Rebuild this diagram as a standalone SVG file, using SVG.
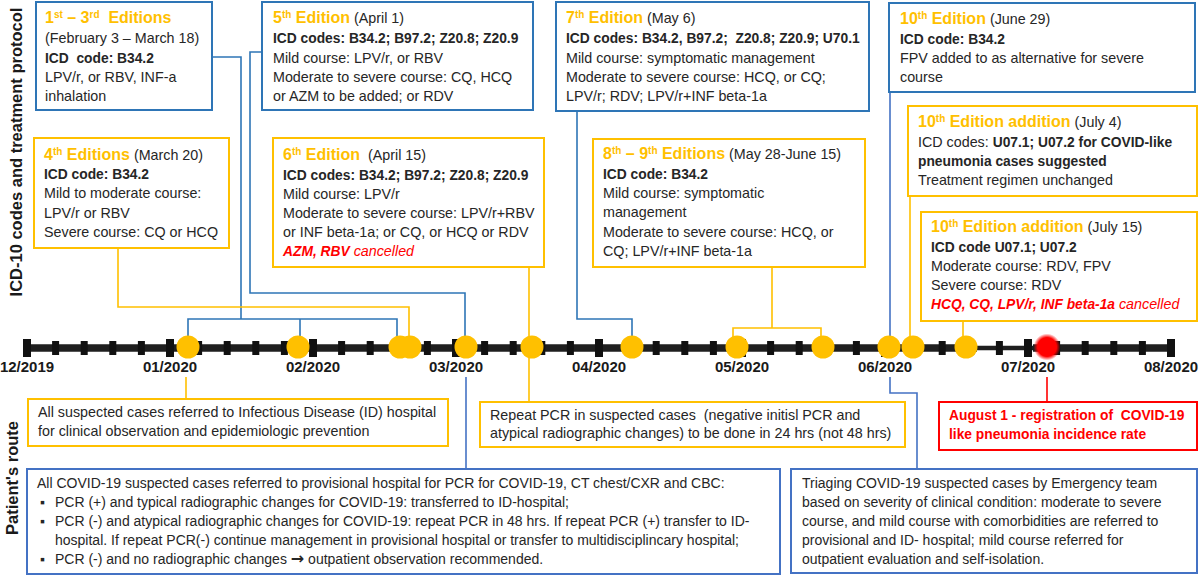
<svg xmlns="http://www.w3.org/2000/svg" width="1200" height="577" viewBox="0 0 1200 577" xml:space="preserve">
<defs>
<style>
text{font-family:"Liberation Sans",Arial,sans-serif;fill:#262626;font-size:14.3px;white-space:pre}
.bx{fill:#fff;stroke-width:2}
.bb{stroke:#2E75B6}
.bp{stroke:#4472C4}
.bo{stroke:#FFC000}
.br{stroke:#FF0000}
.t{fill:#FFC000;font-weight:bold;font-size:16px}
.b{font-weight:bold;font-size:13.8px}
.rb{fill:#FF0000;font-weight:bold;font-style:italic;font-size:13.8px}
.ri{fill:#FF0000;font-style:italic}
.rr{fill:#FF0000;font-weight:bold;font-size:13.8px}
.sup{font-size:10px}
.lbl{font-weight:bold;font-size:15px;text-anchor:middle;fill:#1a1a1a}
.side{font-weight:bold;font-size:16.5px;text-anchor:middle;fill:#1a1a1a}
.sm{font-size:14px}
.arr{font-weight:bold;font-size:16px;font-family:"DejaVu Sans",sans-serif}
.cb{fill:none;stroke:#2E75B6;stroke-width:1.6}
.cp{fill:none;stroke:#4472C4;stroke-width:1.6}
.co{fill:none;stroke:#FFC000;stroke-width:1.6}
.cr{fill:none;stroke:#FF0000;stroke-width:1.6}
.dot{fill:#FFC000}
.tk{fill:#111}
</style>
<rect id="ts" class="tk" x="-3.5" y="341" width="7" height="14"/>
<rect id="tl" class="tk" x="-4" y="339" width="8" height="18"/>
<radialGradient id="rg">
<stop offset="0.7" stop-color="#FF0000"/>
<stop offset="1" stop-color="#FF0000" stop-opacity="0"/>
</radialGradient>
</defs>
<rect width="1200" height="577" fill="#fff"/>
<g id="connectors">
<path class="cb" d="M212,57 H241 V319 M188,337 V319 H397 V337 M300,319 V337"/>
<path class="cb" d="M262,52 H250 V293 H465 V337"/>
<path class="cb" d="M577,111 V319 H632 V337"/>
<path class="cp" d="M890,92 V337 M890,377 V393 H917 V469"/>
<path class="cp" d="M466,377 V469"/>
<path class="co" d="M118,248 V307 H409 V337"/>
<path class="co" d="M529,267 V402"/>
<path class="co" d="M772,267 V328 M733,337 V328 H821 V337"/>
<path class="co" d="M910,196 V337"/>
<path class="co" d="M963,321 V337"/>
<path class="co" d="M186,377 V399"/>
<path class="cr" d="M1047,377 V402"/>
</g>
<g id="timeline">
<path d="M27,348 H977 M1033,348 H1171" stroke="#1f1f1f" stroke-width="7.5" fill="none"/>
<path d="M977,348 H1033" stroke="#1f1f1f" stroke-width="4.5" fill="none"/>
<use href="#tl" x="27"/><use href="#ts" x="55.6"/><use href="#ts" x="84.2"/><use href="#ts" x="112.8"/><use href="#ts" x="141.4"/>
<use href="#tl" x="170"/><use href="#ts" x="198.6"/><use href="#ts" x="227.2"/><use href="#ts" x="255.8"/><use href="#ts" x="284.4"/>
<use href="#tl" x="313"/><use href="#ts" x="341.6"/><use href="#ts" x="370.2"/><use href="#ts" x="398.8"/><use href="#ts" x="427.4"/>
<use href="#tl" x="456"/><use href="#ts" x="484.6"/><use href="#ts" x="513.2"/><use href="#ts" x="541.8"/><use href="#ts" x="570.4"/>
<use href="#tl" x="599"/><use href="#ts" x="627.6"/><use href="#ts" x="656.2"/><use href="#ts" x="684.8"/><use href="#ts" x="713.4"/>
<use href="#tl" x="742"/><use href="#ts" x="770.6"/><use href="#ts" x="799.2"/><use href="#ts" x="827.8"/><use href="#ts" x="856.4"/>
<use href="#tl" x="885"/><use href="#ts" x="913.6"/><use href="#ts" x="942.2"/><use href="#ts" x="970.8"/><use href="#ts" x="999.4"/>
<use href="#tl" x="1028"/><use href="#ts" x="1056.6"/><use href="#ts" x="1085.2"/><use href="#ts" x="1113.8"/><use href="#ts" x="1142.4"/>
<use href="#tl" x="1171"/>
<text class="lbl" x="27" y="372">12/2019</text>
<text class="lbl" x="170" y="372">01/2020</text>
<text class="lbl" x="313" y="372">02/2020</text>
<text class="lbl" x="456" y="372">03/2020</text>
<text class="lbl" x="599" y="372">04/2020</text>
<text class="lbl" x="742" y="372">05/2020</text>
<text class="lbl" x="885" y="372">06/2020</text>
<text class="lbl" x="1028" y="372">07/2020</text>
<text class="lbl" x="1171" y="372">08/2020</text>
</g>
<g id="events">
<circle class="dot" cx="188" cy="347" r="11.5"/>
<circle class="dot" cx="298" cy="347" r="11.5"/>
<circle class="dot" cx="400" cy="347" r="11.5"/>
<circle class="dot" cx="410" cy="347" r="11.5"/>
<circle class="dot" cx="466" cy="347" r="11.5"/>
<circle class="dot" cx="532" cy="347" r="11.5"/>
<circle class="dot" cx="632" cy="347" r="11.5"/>
<circle class="dot" cx="737" cy="347" r="11.5"/>
<circle class="dot" cx="823" cy="347" r="11.5"/>
<circle class="dot" cx="889" cy="347" r="11.5"/>
<circle class="dot" cx="913" cy="347" r="11.5"/>
<circle class="dot" cx="966" cy="347" r="11.5"/>
<circle cx="1047" cy="347" r="13.5" fill="url(#rg)"/>
</g>
<g id="side-labels">
<text class="side" transform="translate(22,152) rotate(-90)">ICD-10 codes and treatment protocol</text>
<text class="side" transform="translate(18,478) rotate(-90)">Patient's route</text>
</g>
<g id="ed1-3">
<rect class="bx bb" x="36" y="2" width="176" height="108"/>
<text x="45" y="23" class="t">1<tspan class="sup" baseline-shift="super">st</tspan> – 3<tspan class="sup" baseline-shift="super">rd</tspan>  Editions</text>
<text x="45" y="43">(February 3 – March 18)</text>
<text x="45" y="63" class="b">ICD  code: B34.2</text>
<text x="45" y="82">LPV/r, or RBV, INF-a</text>
<text x="45" y="101">inhalation</text>
</g>
<g id="ed5">
<rect class="bx bb" x="262" y="2" width="271" height="108"/>
<text x="273" y="23"><tspan class="t">5<tspan class="sup" baseline-shift="super">th</tspan> Edition</tspan> (April 1)</text>
<text x="273" y="43" class="b">ICD codes: B34.2; B97.2; Z20.8; Z20.9</text>
<text x="273" y="63">Mild course: LPV/r, or RBV</text>
<text x="273" y="82">Moderate to severe course: CQ, HCQ</text>
<text x="273" y="101">or AZM to be added; or RDV</text>
</g>
<g id="ed7">
<rect class="bx bb" x="556" y="2" width="313" height="109"/>
<text x="566" y="23"><tspan class="t">7<tspan class="sup" baseline-shift="super">th</tspan> Edition</tspan> (May 6)</text>
<text x="566" y="43" class="b">ICD codes: B34.2, B97.2;  Z20.8; Z20.9; U70.1</text>
<text x="566" y="63">Mild course: symptomatic management</text>
<text x="566" y="82">Moderate to severe course: HCQ, or CQ;</text>
<text x="566" y="101">LPV/r; RDV; LPV/r+INF beta-1a</text>
</g>
<g id="ed10">
<rect class="bx bb" x="889" y="3" width="306" height="89"/>
<text x="900" y="24"><tspan class="t">10<tspan class="sup" baseline-shift="super">th</tspan> Edition</tspan> (June 29)</text>
<text x="900" y="44" class="b">ICD code: B34.2</text>
<text x="900" y="63">FPV added to as alternative for severe</text>
<text x="900" y="82">course</text>
</g>
<g id="ed10-add-jul4">
<rect class="bx bo" x="908" y="106" width="289" height="90"/>
<text x="918" y="127"><tspan class="t">10<tspan class="sup" baseline-shift="super">th</tspan> Edition addition</tspan> (July 4)</text>
<text x="918" y="147">ICD codes: <tspan class="b">U07.1; U07.2 for COVID-like</tspan></text>
<text x="918" y="166" class="b">pneumonia cases suggested</text>
<text x="918" y="185">Treatment regimen unchanged</text>
</g>
<g id="ed10-add-jul15">
<rect class="bx bo" x="921" y="212" width="276" height="109"/>
<text x="931" y="232"><tspan class="t">10<tspan class="sup" baseline-shift="super">th</tspan> Edition addition</tspan> (July 15)</text>
<text x="931" y="252" class="b">ICD code U07.1; U07.2</text>
<text x="931" y="271">Moderate course: RDV, FPV</text>
<text x="931" y="290">Severe course: RDV</text>
<text x="931" y="309"><tspan class="rb">HCQ, CQ, LPV/r, INF beta-1a</tspan><tspan class="ri"> cancelled</tspan></text>
</g>
<g id="ed4">
<rect class="bx bo" x="34" y="138" width="195" height="110"/>
<text x="44" y="160"><tspan class="t">4<tspan class="sup" baseline-shift="super">th</tspan> Editions</tspan> (March 20)</text>
<text x="44" y="179" class="b">ICD code: B34.2</text>
<text x="44" y="198">Mild to moderate course:</text>
<text x="44" y="218">LPV/r or RBV</text>
<text x="44" y="237">Severe course: CQ or HCQ</text>
</g>
<g id="ed6">
<rect class="bx bo" x="273" y="138" width="271" height="129"/>
<text x="283" y="160"><tspan class="t">6<tspan class="sup" baseline-shift="super">th</tspan> Edition</tspan>  (April 15)</text>
<text x="283" y="180" class="b">ICD codes: B34.2; B97.2; Z20.8; Z20.9</text>
<text x="283" y="199">Mild course: LPV/r</text>
<text x="283" y="218">Moderate to severe course: LPV/r+RBV</text>
<text x="283" y="237">or INF beta-1a; or CQ, or HCQ or RDV</text>
<text x="283" y="256"><tspan class="rb">AZM, RBV</tspan><tspan class="ri"> cancelled</tspan></text>
</g>
<g id="ed8-9">
<rect class="bx bo" x="593" y="139" width="272" height="128"/>
<text x="603" y="159"><tspan class="t">8<tspan class="sup" baseline-shift="super">th</tspan> – 9<tspan class="sup" baseline-shift="super">th</tspan> Editions</tspan> (May 28-June 15)</text>
<text x="603" y="179" class="b">ICD code: B34.2</text>
<text x="603" y="198">Mild course: symptomatic</text>
<text x="603" y="217">management</text>
<text x="603" y="237">Moderate to severe course: HCQ, or</text>
<text x="603" y="256">CQ; LPV/r+INF beta-1a</text>
</g>
<g id="route-id-hospital">
<rect class="bx bo" x="28" y="399" width="420" height="47"/>
<text x="38" y="417">All suspected cases referred to Infectious Disease (ID) hospital</text>
<text x="38" y="436">for clinical observation and epidemiologic prevention</text>
</g>
<g id="route-repeat-pcr">
<rect class="bx bo" x="480" y="402" width="425" height="45"/>
<text x="490" y="420">Repeat PCR in suspected cases  (negative initisl PCR and</text>
<text x="490" y="438">atypical radiographic changes) to be done in 24 hrs (not 48 hrs)</text>
</g>
<g id="route-august">
<rect class="bx br" x="939" y="402" width="258" height="48"/>
<text x="949" y="420" class="rr">August 1 - registration of  COVID-19</text>
<text x="949" y="439" class="rr">like pneumonia incidence rate</text>
</g>
<g id="route-provisional">
<rect class="bx bp" x="27" y="469" width="753" height="105"/>
<text x="37" y="488" class="sm">All COVID-19 suspected cases referred to provisional hospital for PCR for COVID-19, CT chest/CXR and CBC:</text>
<text x="40" y="507" class="sm">▪</text>
<text x="55" y="507" class="sm">PCR (+) and typical radiographic changes for COVID-19: transferred to ID-hospital;</text>
<text x="40" y="526" class="sm">▪</text>
<text x="55" y="526" class="sm">PCR (-) and atypical radiographic changes for COVID-19: repeat PCR in 48 hrs. If repeat PCR (+) transfer to ID-</text>
<text x="55" y="545" class="sm">hospital. If repeat PCR(-) continue management in provisional hospital or transfer to multidisciplincary hospital;</text>
<text x="40" y="564" class="sm">▪</text>
<text x="55" y="564" class="sm">PCR (-) and no radiographic changes <tspan class="arr">→</tspan> outpatient observation recommended.</text>
</g>
<g id="route-triage">
<rect class="bx bp" x="791" y="469" width="406" height="104"/>
<text x="802" y="488" class="sm">Triaging COVID-19 suspected cases by Emergency team</text>
<text x="802" y="507" class="sm">based on severity of clinical condition: moderate to severe</text>
<text x="802" y="526" class="sm">course, and mild course with comorbidities are referred to</text>
<text x="802" y="545" class="sm">provisional and ID- hospital; mild course referred for</text>
<text x="802" y="564" class="sm">outpatient evaluation and self-isolation.</text>
</g>
</svg>
